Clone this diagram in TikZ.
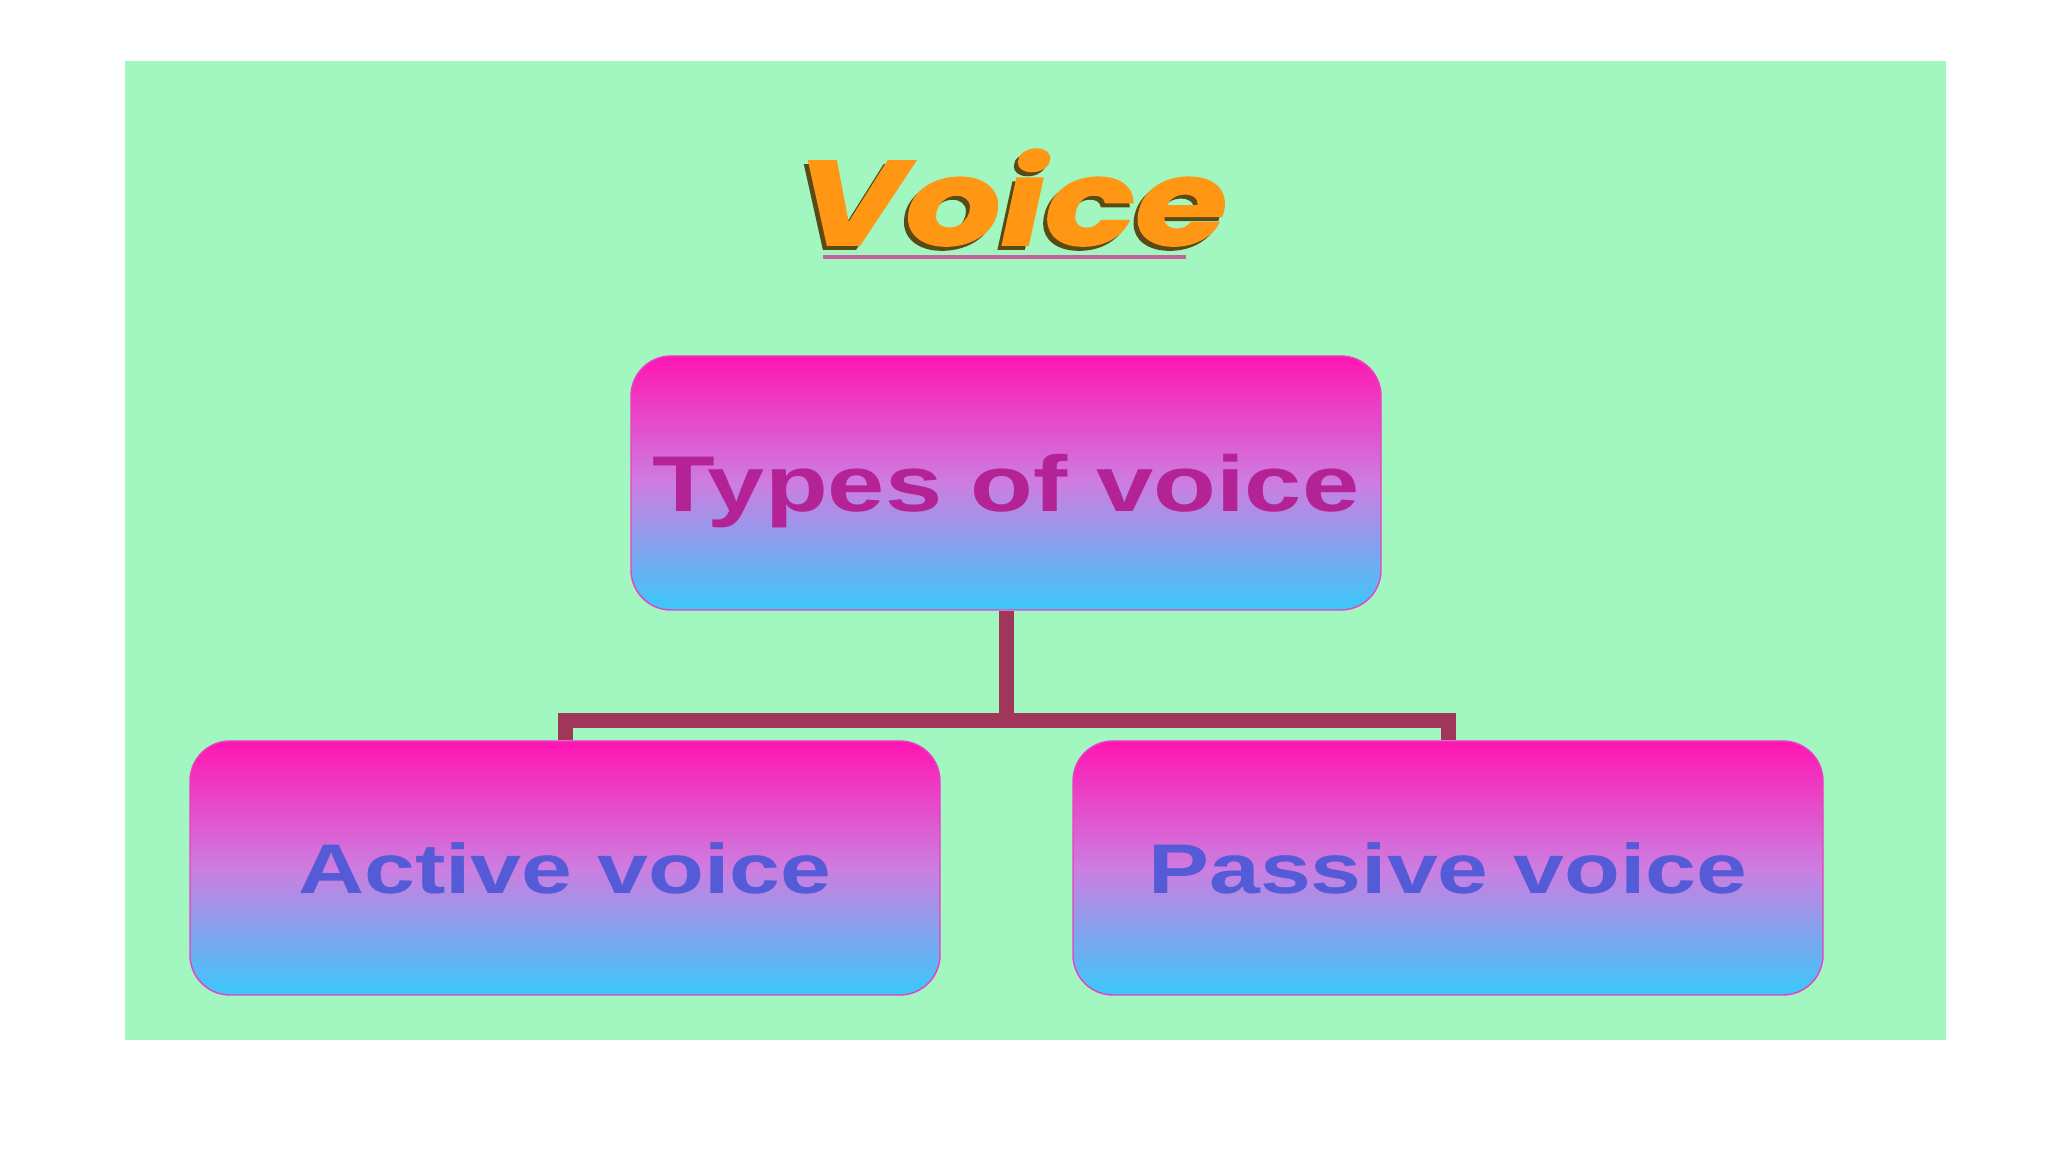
\documentclass[tikz,border=0pt]{standalone}
\usepackage{fontspec}
\setmainfont{Liberation Sans}
\newfontfamily\boxfont{Liberation Sans}[FakeStretch=1.3]
\newfontfamily\titlefont{Poppins}[FakeStretch=1.25, BoldItalicFeatures={FakeBold=1.5}]
\usetikzlibrary{positioning}

\definecolor{mint}{RGB}{162,247,192}
\definecolor{boxpink}{RGB}{255,22,178}
\definecolor{boxmid}{RGB}{205,125,225}
\definecolor{boxsky}{RGB}{58,200,250}
\definecolor{barred}{RGB}{160,55,90}
\definecolor{typetext}{RGB}{180,35,150}
\definecolor{kindtext}{RGB}{85,90,215}
\definecolor{titleorange}{RGB}{255,150,20}
\definecolor{titleshadow}{RGB}{90,75,20}
\definecolor{ulcolor}{RGB}{200,95,160}

\tikzset{
  vbox/.style={rounded corners=0.4cm, minimum width=7.5cm, minimum height=2.54cm,
    top color=boxpink, bottom color=boxsky, middle color=boxmid,
    draw=boxpink!60!boxmid, thin, font=\boxfont\bfseries},
  link/.style={draw=barred, line width=0.15cm},
  ttl/.style={anchor=base, font=\titlefont\bfseries\itshape\fontsize{34}{38}\selectfont},
}

\begin{document}
\begin{tikzpicture}
      % page and green panel
      \fill[white] (0,0) rectangle (20.48,11.52);
      \useasboundingbox (0,0) rectangle (20.48,11.52);
      \fill[mint] (1.25,1.12) rectangle (19.46,10.91);

      % title with its shadow
      \node[ttl, text=titleshadow] (Vs) at (10.08,9.03) {Voice};
      \node[ttl, text=titleorange] (V) at (10.12,9.07) {Voice};
      \coordinate (UL1) at (8.23,8.95);
      \coordinate (UL2) at (11.86,8.95);
      \draw[ulcolor, line width=1.2pt] (UL1) -- (UL2);

      % the three boxes
      \node[vbox, text=typetext, text depth=0pt, font=\boxfont\bfseries\fontsize{22.5}{26}\selectfont] (T) at (10.06,6.69) {Types of voice};
      \node[vbox, text=kindtext, font=\boxfont\bfseries\fontsize{20}{24}\selectfont] (A) at (5.65,2.84) {Active voice};
      \node[vbox, text=kindtext, font=\boxfont\bfseries\fontsize{20}{24}\selectfont] (P) at (14.48,2.84) {Passive voice};

      \draw[link] (T.south) -- ++(0,-1.10) -| (A.north);
      \draw[link] (T.south) -- ++(0,-1.10) -| (P.north);
    \end{tikzpicture}
\end{document}
